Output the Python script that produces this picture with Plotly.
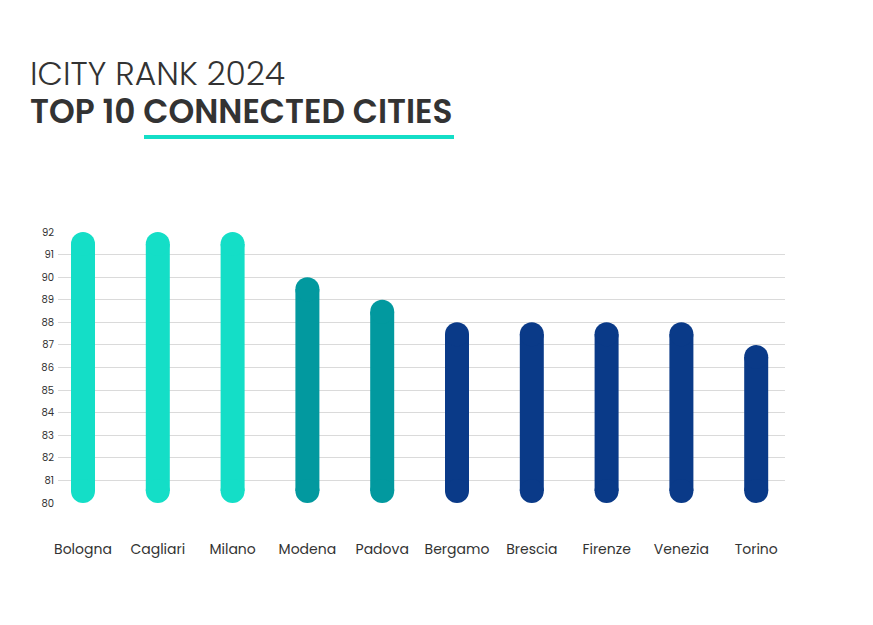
import plotly.graph_objects as go

cities = ["Bologna", "Cagliari", "Milano", "Modena", "Padova",
          "Bergamo", "Brescia", "Firenze", "Venezia", "Torino"]
scores = [92, 92, 92, 90, 89, 88, 88, 88, 88, 87]
groups = ["top", "top", "top", "mid", "mid", "low", "low", "low", "low", "low"]
group_colors = {"top": "#14DEC7", "mid": "#02999F", "low": "#0A3A88"}
y_ticks = list(range(80, 93))
base_value = 80

W, H = 873, 625
L, R, T, B = 58, 88, 232, 122
plot_w = W - L - R
plot_h = H - T - B
y_range = [80, 92]
px_per_unit = plot_h / (y_range[1] - y_range[0])
bar_px = 24
r_units = (bar_px / 2) / px_per_unit

step_px = 74.8
x0 = -(83 - L) / step_px
x1 = x0 + plot_w / step_px

fig = go.Figure()
for g, col in group_colors.items():
    xs, ys, mx, my = [], [], [], []
    for i, (c, v, gg) in enumerate(zip(cities, scores, groups)):
        if gg != g:
            continue
        lo = base_value + r_units
        hi = v - r_units
        xs += [i, i, None]
        ys += [lo, hi, None]
        mx += [i, i]
        my += [lo, hi]
    fig.add_trace(go.Scatter(x=xs, y=ys, mode="lines",
                             line=dict(color=col, width=bar_px),
                             hoverinfo="skip", showlegend=False,
                             cliponaxis=False))
    fig.add_trace(go.Scatter(x=mx, y=my, mode="markers",
                             marker=dict(color=col, size=bar_px, line=dict(width=0)),
                             hoverinfo="skip", showlegend=False,
                             cliponaxis=False))

font_family = "Poppins, Lato, 'Open Sans', sans-serif"

fig.update_layout(
    width=W, height=H,
    margin=dict(l=L, r=R, t=T, b=B),
    paper_bgcolor="white", plot_bgcolor="white",
    font=dict(family=font_family, color="#333333"),
    xaxis=dict(range=[x0, x1], tickmode="array",
               tickvals=list(range(len(cities))), ticktext=cities,
               showgrid=False, zeroline=False, showline=False,
               tickfont=dict(size=14, color="#333333"),
               ticks="", ticklabelstandoff=36),
    yaxis=dict(range=y_range, tickmode="array", tickvals=y_ticks,
               ticktext=[str(t) for t in y_ticks],
               showgrid=True, gridcolor="#DADADA", gridwidth=1,
               zeroline=False, showline=False, ticks="",
               tickfont=dict(size=10, color="#333333"),
               ticklabelstandoff=3),
)

def px_x(p):
    return (p - L) / plot_w

def px_y(p):
    return (H - B - p) / plot_h

fig.add_annotation(text="ICITY RANK 2024", xref="paper", yref="paper",
                   x=px_x(28), y=px_y(74), xanchor="left", yanchor="middle",
                   showarrow=False,
                   font=dict(size=33, color="#333333", family=font_family, weight=300))
fig.add_annotation(text="TOP 10 CONNECTED CITIES", xref="paper", yref="paper",
                   x=px_x(28), y=px_y(111), xanchor="left", yanchor="middle",
                   showarrow=False,
                   font=dict(size=32.8, color="#333333", family=font_family, weight=600))
fig.add_shape(type="line", xref="paper", yref="paper",
              x0=px_x(144), x1=px_x(454), y0=px_y(137), y1=px_y(137),
              line=dict(color="#14DEC7", width=4))

fig.write_html("out.html")
